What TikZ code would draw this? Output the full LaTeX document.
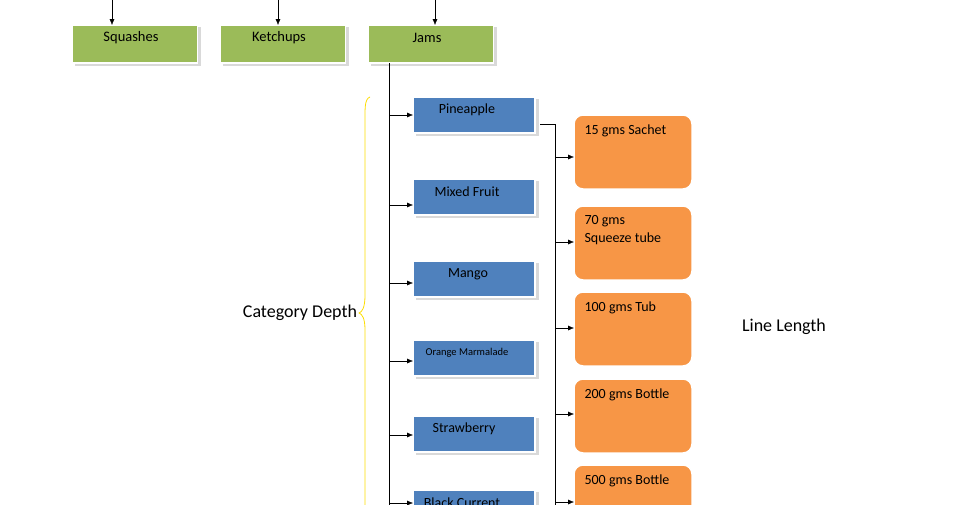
\documentclass[tikz,border=0pt]{standalone}
\usepackage{fontspec}
\setmainfont{Carlito}
\usetikzlibrary{arrows.meta}
\definecolor{grn}{RGB}{155,187,89}
\definecolor{blu}{RGB}{79,129,189}
\definecolor{org}{RGB}{247,150,70}
\begin{document}
\begin{tikzpicture}[x=1pt,y=-1pt,
 g/.style={fill=grn,draw=white,line width=1.5pt,minimum width=125pt,minimum height=38pt,inner sep=0pt},
 b/.style={fill=blu,draw=white,line width=1.5pt,minimum width=122pt,minimum height=36pt,inner sep=0pt},
 o/.style={fill=org,draw=white,line width=1.5pt,rounded corners=9pt,minimum width=118pt,minimum height=74pt,inner sep=0pt},
 ar/.style={-{Latex[length=6pt,width=5pt]},black},
 ln/.style={black}]
\useasboundingbox (0,0) rectangle (960,504);
\clip (0,0) rectangle (960,504);
% green
\foreach \n/\x/\t in {sq/135/Squashes,ke/283/Ketchups,ja/431/Jams}{
 \fill[black!15] (\x-60,27) rectangle (\x+66,66);
 \node[g] (\n) at (\x,44) {};
 \node at (\x-4,38) {\fontsize{14.5}{16}\selectfont \t};
}
\coordinate (t1) at (112,0);\coordinate (t2) at (278,0);\coordinate (t3) at (435,0);
\draw[ar] (t1) -- (112,25);
\draw[ar] (t2) -- (278,25);
\draw[ar] (t3) -- (435,25);
% blue
\foreach \n/\y/\t/\tx/\fs in {pi/115/Pineapple/467/14,mf/197/Mixed Fruit/467/14,ma/279/Mango/468/14,om/358/Orange Marmalade/467/10.5,st/434/Strawberry/464/14,bc/508/Black Current/462/14}{
 \fill[black!15] (416,\y-16) rectangle (539,\y+21);
 \node[b] (\n) at (474,\y) {};
 \node at (\tx,\y-5) {\fontsize{\fs}{15}\selectfont \t};
}
\coordinate (jb) at (389,63);
\coordinate (je) at (389,510);
\draw[ln] (jb) -- (je);
\foreach \y in {115,205,283,361,435,503}{
 \draw[ar] (389,\y) -- (413,\y);
}
% orange
\foreach \n/\y/\t in {o1/152/15 gms Sachet,o2/243/{70 gms\\Squeeze tube},o3/329/100 gms Tub,o4/416/200 gms Bottle,o5/502/500 gms Bottle}{
 \node[o] (\n) at (633,\y) {};
 \node[anchor=north west,align=left,font=\fontsize{14}{18}\selectfont] at (581,\y-31) {\t};
}
\coordinate (pr) at (540,124);
\draw[ln] (pr) -- (555,124) -- (555,510);
\foreach \y in {157,242,328,414,502}{
 \draw[ar] (555,\y) -- (574,\y);
}
% brace
\draw[yellow!80!orange,line width=0.8pt] (370,97) .. controls (364,99) and (365,110) .. (365,130) -- (365,295) .. controls (365,308) and (362,312) .. (359,313) .. controls (362,314) and (365,318) .. (365,330) -- (365,510);
\node (cd) at (300,313) {\fontsize{18}{20}\selectfont Category Depth};
\node (ll) at (784,327) {\fontsize{18}{20}\selectfont Line Length};
\end{tikzpicture}
\end{document}
